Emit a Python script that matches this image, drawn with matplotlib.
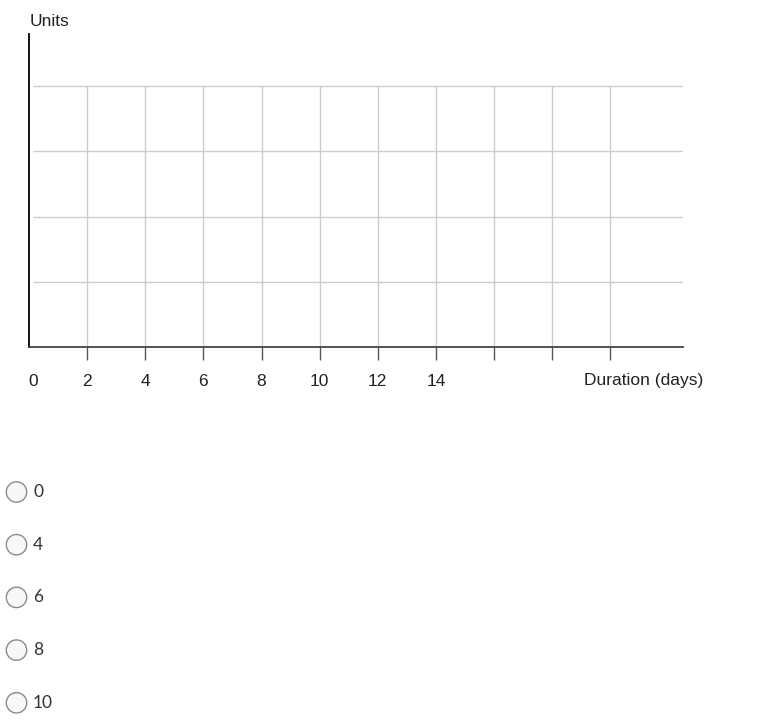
import numpy as np
import matplotlib
matplotlib.use("Agg")
import matplotlib.pyplot as plt
from matplotlib.patches import Circle
from matplotlib.transforms import ScaledTranslation

# chart contents
x_ticks = [0, 2, 4, 6, 8, 10, 12, 14, 16, 18, 20]
x_tick_labels = ["0", "2", "4", "6", "8", "10", "12", "14", "", "", ""]
y_grid = [1, 2, 3, 4]
x_label = "Duration (days)"
y_label = "Units"
options = ["0", "4", "6", "8", "10"]

W, H = 763, 726
fig = plt.figure(figsize=(W / 100, H / 100), dpi=100)

# axes placed in pixel units
left, right, top, bottom = 29, 683, 34, 347
ax = fig.add_axes([left / W, 1 - bottom / H, (right - left) / W, (bottom - top) / H])
ax.set_xlim(0, 22.5)
ax.set_ylim(0, 4.8)

for s in ["top", "right"]:
    ax.spines[s].set_visible(False)
ax.spines["left"].set_color("black")
ax.spines["left"].set_linewidth(1.3)
ax.spines["bottom"].set_color("#444444")
ax.spines["bottom"].set_linewidth(1.3)

# grid only up to the last unit line
ax.vlines(x_ticks[1:], 0, y_grid[-1], colors="#cccccc", linewidth=1, zorder=0)
ax.hlines(y_grid, 0.15, 22.6, colors="#cccccc", linewidth=1, zorder=0)

ax.set_xticks(x_ticks)
ax.set_xticklabels(x_tick_labels, fontfamily="Liberation Sans", fontsize=12.5, color="#222222")
ax.tick_params(axis="x", direction="out", length=9.5, width=1, color="#555555", pad=10)
ax.xaxis.get_major_ticks()[0].tick1line.set_visible(False)
# the origin label sits a little right of the axis
lab0 = ax.get_xticklabels()[0]
lab0.set_transform(lab0.get_transform() + ScaledTranslation(0.045, 0, fig.dpi_scale_trans))
ax.set_yticks([])

fig.text(644 / W, 1 - 381 / H, x_label, ha="center", va="center",
         fontfamily="Liberation Sans", fontsize=12.5, color="#222222")
fig.text(30 / W, 1 - 22 / H, y_label, ha="left", va="center",
         fontfamily="Liberation Sans", fontsize=12.5, color="#222222")

# radio options below the chart
over = fig.add_axes([0, 0, 1, 1])
over.set_xlim(0, W)
over.set_ylim(H, 0)
over.axis("off")
ys = np.arange(len(options)) * 52.7 + 492
for y, lab in zip(ys, options):
    over.add_patch(Circle((16.5, y), 10.2, facecolor="#f7f8fc", edgecolor="#8a8a8a", linewidth=1))
    over.text(33, y, lab, ha="left", va="center", fontfamily="Lato",
              fontsize=12.5, color="#333333")

fig.savefig("out.png", dpi=100)
